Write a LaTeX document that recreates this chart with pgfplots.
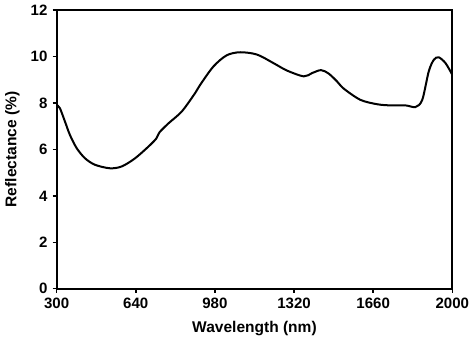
\documentclass[border=0pt]{standalone}
\usepackage{fontspec}
\setmainfont{Liberation Sans}
\usepackage{pgfplots}
\pgfplotsset{compat=1.18}
\begin{document}
\fontsize{15}{17}\selectfont\bfseries
\begin{tikzpicture}
\begin{axis}[
  scale only axis,
  width=395pt, height=278pt,
  xmin=300, xmax=2000, ymin=0, ymax=12,
  xtick={300,640,980,1320,1660,2000},
  ytick={0,2,4,6,8,10,12},
  tick align=outside,
  tick pos=left,
  major tick length=4pt,
  axis line style={line width=2pt},
  every tick/.style={line width=1.5pt, black},
  /pgf/number format/assume math mode=true,
  /pgf/number format/1000 sep={},
  ticklabel style={font=\fontsize{15}{17}\selectfont\bfseries},
  label style={font=\fontsize{15.5}{17}\selectfont\bfseries},
  xlabel={Wavelength (nm)},
  ylabel={Reflectance (\%)},
  xlabel style={yshift=-2pt},
  ylabel style={yshift=1pt},
]
\addplot[black, line width=2pt, smooth, tension=0.5] coordinates {
(300,7.92) (314,7.78) (336,7.2) (357,6.63) (386,6.06) (422,5.62) (465,5.34)
(529,5.19) (580,5.27) (637,5.62) (695,6.13) (728,6.47) (742,6.74) (781,7.13)
(838,7.64) (895,8.43) (917,8.79) (974,9.58) (1031,10.06) (1089,10.19)
(1161,10.09) (1232,9.72) (1290,9.40) (1362,9.15) (1397,9.29) (1436,9.42)
(1469,9.27) (1505,8.93) (1534,8.62) (1605,8.14) (1677,7.95) (1734,7.90)
(1799,7.90) (1842,7.83) (1871,8.14) (1899,9.37) (1921,9.87) (1942,9.97)
(1971,9.72) (2000,9.22)
};
\end{axis}
\end{tikzpicture}
\end{document}
